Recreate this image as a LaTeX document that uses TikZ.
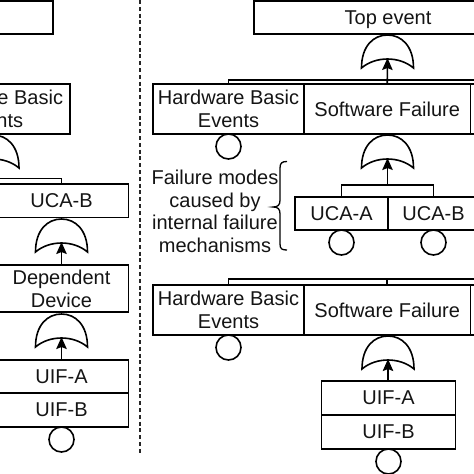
\documentclass[tikz,border=0pt]{standalone}
\usepackage{fontspec}
\setmainfont{Liberation Sans}
\usetikzlibrary{arrows.meta}
\begin{document}
\begin{tikzpicture}[x=1pt,y=-1pt,
  lw/.style={line width=1.6pt},
  box/.style={draw, line width=1.6pt, inner sep=0pt, align=center, text=black!92,
    font=\fontsize{20}{22.8}\selectfont},
  txt/.style={inner sep=0pt, align=center, text=black!92, font=\fontsize{20}{22.5}\selectfont},
  ev/.style={draw, line width=1.6pt, circle, minimum size=25pt, inner sep=0pt},
  arr/.style={line width=1.6pt, -{Stealth[length=12pt,width=10.5pt,inset=2pt]}},
  sep/.style={line width=1.9pt, draw=black!85, dash pattern=on 4pt off 2.8pt},
  orgate/.pic={\draw[line width=1.6pt] (-26,0) .. controls (-26,-22) and (-14,-33) .. (0,-33)
     .. controls (14,-33) and (26,-22) .. (26,0) .. controls (12,-12) and (-12,-12) .. cycle;}
]
\useasboundingbox (0,0) rectangle (474,474);
\clip (0,0) rectangle (474,474);

% ---------- separator ----------
\coordinate (s1) at (140,0);
\coordinate (s2) at (140,455);
\draw[sep] (s1) -- (s2);

% ---------- right, upper ----------
\node[box, text depth=0pt, minimum width=268pt, minimum height=33pt] (top) at (388,17.5) {Top event};
\coordinate (g1) at (387.5,68);
\pic at (g1) {orgate};
\node[box, minimum width=151pt, minimum height=50pt] (hw1) at (228.5,109) {Hardware Basic\\Events};
\node[box, minimum width=166.5pt, minimum height=50pt] (sw1) at (387.25,109) {Software Failure};
\node[box, minimum width=149.5pt, minimum height=50pt] (x1) at (545.25,109) {};
\coordinate (b1r) at (620,80);
\coordinate (t1) at (387.5,58);
\draw[lw] (hw1.north) |- (b1r);
\draw[lw] (x1.north) -- (x1.north |- b1r);
\draw[arr] (sw1.north) -- (t1);
\node[ev] (c1) at (228.5,146.5) {};

\coordinate (g2) at (387.5,168);
\pic at (g2) {orgate};
\coordinate (t2) at (387.5,158);
\coordinate (b2) at (387.5,185);
\node[box, minimum width=93pt, minimum height=33pt] (ucaA) at (341.5,213.5) {UCA-A};
\node[box, minimum width=91pt, minimum height=33pt] (ucaB) at (433.5,213.5) {UCA-B};
\draw[lw] (ucaA.north) |- (b2) -| (ucaB.north);
\draw[arr] (b2) -- (t2);
\node[ev] (c2) at (341.5,242.5) {};
\node[ev] (c3) at (433.5,242.5) {};

\node[txt] (fm) at (215,211.5) {Failure modes\\caused by\\internal failure\\mechanisms};
\draw[line width=1.3pt] (287,161.5) .. controls (282,161.5) and (280,163) .. (280,168) -- (280,200)
  .. controls (280,205) and (278,207) .. (273,207) .. controls (278,207) and (280,209) .. (280,214)
  -- (280,244) .. controls (280,249) and (282,250) .. (287,250);

% ---------- right, lower ----------
\node[box, minimum width=151pt, minimum height=50pt] (hw2) at (228.5,310) {Hardware Basic\\Events};
\node[box, minimum width=166.5pt, minimum height=50pt] (sw2) at (387.25,310) {Software Failure};
\node[box, minimum width=149.5pt, minimum height=50pt] (x2) at (545.25,310) {};
\coordinate (b3r) at (620,279);
\draw[lw] (hw2.north) |- (b3r);
\draw[lw] (sw2.north) -- (sw2.north |- b3r);
\draw[lw] (x2.north) -- (x2.north |- b3r);
\node[ev] (c4) at (228.5,347.5) {};
\coordinate (g3) at (388,369);
\pic at (g3) {orgate};
\coordinate (t3) at (388,359);
\node[box, minimum width=134pt, minimum height=34pt] (uifA2) at (388.5,398) {UIF-A};
\node[box, minimum width=134pt, minimum height=34pt] (uifB2) at (388.5,432) {UIF-B};
\draw[arr] (uifA2.north -| t3) -- (t3);
\node[ev] (c5) at (388.5,461.5) {};

% ---------- left ----------
\node[box, minimum width=253pt, minimum height=33pt] (topL) at (-73.5,17.5) {};
\node[box, minimum width=155pt, minimum height=50pt] (hwL) at (-7.5,109) {Hardware Basic\\Events};
\coordinate (gL1) at (-7,168);
\pic at (gL1) {orgate};
\coordinate (tL1) at (-7,158);
\coordinate (bL) at (-150,178.5);
\coordinate (bLm) at (-7,178.5);
\node[box, minimum width=134pt, minimum height=33.5pt] (ucaBL) at (61.5,200.75) {UCA-B};
\draw[lw] (bL) -| (ucaBL.north);
\draw[arr] (bLm) -- (tL1);
\coordinate (gL2) at (61.5,252);
\pic at (gL2) {orgate};
\coordinate (tL2) at (61.5,242);
\node[box, minimum width=134pt, minimum height=47pt] (devL) at (61.5,288.5) {Dependent\\Device};
\draw[arr] (devL.north) -- (tL2);
\coordinate (gL3) at (61.5,347);
\pic at (gL3) {orgate};
\coordinate (tL3) at (61.5,337);
\node[box, minimum width=134pt, minimum height=33pt] (uifAL) at (61.5,376.5) {UIF-A};
\node[box, minimum width=134pt, minimum height=34pt] (uifBL) at (61.5,410) {UIF-B};
\draw[arr] (uifAL.north) -- (tL3);
\node[ev] (c6) at (61.5,439.5) {};
\end{tikzpicture}
\end{document}
